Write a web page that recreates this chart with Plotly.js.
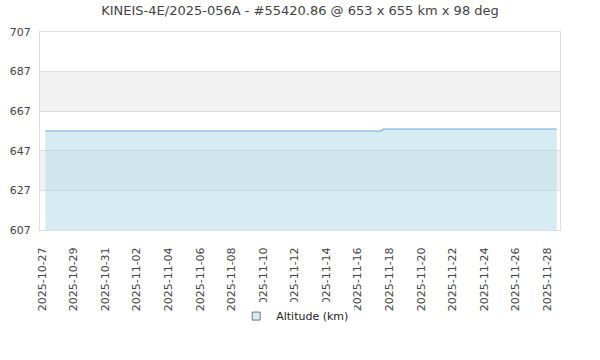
<!DOCTYPE html>
<html>
<head>
<meta charset="utf-8">
<script src="https://cdn.plot.ly/plotly-3.0.1.min.js"></script>
<style>html,body{margin:0;padding:0;background:#fff;}#chart{width:600px;height:360px;}</style>
</head>
<body>
<div id="chart"></div>
<script>
const dates = [
  "2025-10-27T05:00","2025-10-28T05:00","2025-10-29T05:00","2025-10-30T05:00","2025-10-31T05:00",
  "2025-11-01T05:00","2025-11-02T05:00","2025-11-03T05:00","2025-11-04T05:00","2025-11-05T05:00",
  "2025-11-06T05:00","2025-11-07T05:00","2025-11-08T05:00","2025-11-09T05:00","2025-11-10T05:00",
  "2025-11-11T05:00","2025-11-12T05:00","2025-11-13T05:00","2025-11-14T05:00","2025-11-15T05:00",
  "2025-11-16T05:00","2025-11-17T05:00","2025-11-17T11:00","2025-11-17T15:00","2025-11-18T05:00",
  "2025-11-19T05:00","2025-11-20T05:00","2025-11-21T05:00","2025-11-22T05:00","2025-11-23T05:00",
  "2025-11-24T05:00","2025-11-25T05:00","2025-11-26T05:00","2025-11-27T05:00","2025-11-28T05:00",
  "2025-11-28T14:00"
];
const altitude = [
  657,657,657,657,657,
  657,657,657,657,657,
  657,657,657,657,657,
  657,657,657,657,657,
  657,657,657,658,658,
  658,658,658,658,658,
  658,658,658,658,658,
  658
];
const yTicks = [607,627,647,667,687,707];
const xTicks = ["2025-10-27","2025-10-29","2025-10-31","2025-11-02","2025-11-04","2025-11-06","2025-11-08",
  "2025-11-10","2025-11-12","2025-11-14","2025-11-16","2025-11-18","2025-11-20","2025-11-22","2025-11-24",
  "2025-11-26","2025-11-28"];
const seriesName = "Altitude (km)";
const titleText = "KINEIS-4E/2025-056A - #55420.86 @ 653 x 655 km x 98 deg";

const bands = [];
for (let i = 0; i < yTicks.length - 1; i++) {
  if (i % 2 === 1) {
    bands.push({type:'rect', xref:'paper', yref:'y', x0:0, x1:1, y0:yTicks[i], y1:yTicks[i+1],
      fillcolor:'#f2f2f2', line:{width:0}, layer:'below'});
  }
}

const traces = [
  {x: dates, y: altitude, type:'scatter', mode:'lines', fill:'tozeroy',
   fillcolor:'rgba(173,216,230,0.5)', line:{color:'#6fa8dc', width:1.2}, showlegend:false, hoverinfo:'x+y'},
  {x:[null], y:[null], type:'scatter', mode:'markers', name: seriesName,
   marker:{symbol:'square', size:8, color:'rgba(173,216,230,0.5)', line:{color:'#555', width:0.8}}}
];

const layout = {
  width:600, height:360,
  margin:{l:40, r:40, t:32, b:130, autoexpand:false},
  paper_bgcolor:'#fff', plot_bgcolor:'rgba(0,0,0,0)',
  font:{family:'DejaVu Sans, sans-serif', size:11, color:'#444'},
  title:{text: titleText, font:{size:13, color:'#444'}, x:0.5, xanchor:'center', y:0.983, yanchor:'top'},
  xaxis:{type:'date', range:['2025-10-26T21:00','2025-11-28T19:00'], tickvals:xTicks, tickformat:'%Y-%m-%d',
    tickangle:-90, showgrid:false, showline:true, linecolor:'#ddd', linewidth:1, mirror:true,
    ticks:'', ticklabelstandoff:12, zeroline:false, automargin:false, tickfont:{size:11, color:'#444'}},
  yaxis:{range:[607,707], tickvals:yTicks, showgrid:true, gridcolor:'#ddd', gridwidth:1,
    showline:true, linecolor:'#ddd', linewidth:1, mirror:true, zeroline:false, ticks:'', ticklabelstandoff:6,
    automargin:false, tickfont:{size:11, color:'#444'}},
  shapes: bands,
  showlegend:true,
  legend:{orientation:'h', x:0.492, xanchor:'center', xref:'container', yref:'container', y:0.122, yanchor:'middle',
    bgcolor:'#ffffff', itemwidth:30, font:{size:11, color:'#222'}}
};

Plotly.newPlot('chart', traces, layout, {displayModeBar:false, staticPlot:true});
</script>
</body>
</html>
